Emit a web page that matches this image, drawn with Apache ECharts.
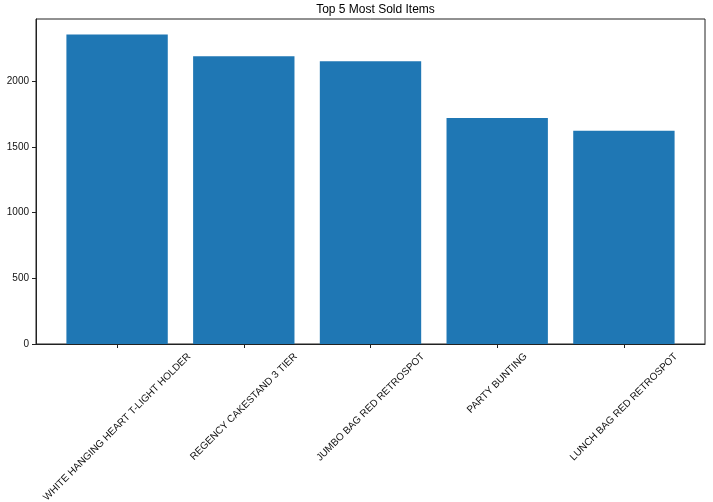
<!DOCTYPE html>
<html>
<head>
<meta charset="utf-8">
<script src="https://cdn.jsdelivr.net/npm/echarts@6/dist/echarts.min.js"></script>
<style>
    html, body { margin: 0; padding: 0; background: #fff; }
    #chart { width: 713px; height: 502px; }
</style>
</head>
<body>
<div id="chart"></div>
<script>
    // data
    var items = ['WHITE HANGING HEART T-LIGHT HOLDER', 'REGENCY CAKESTAND 3 TIER', 'JUMBO BAG RED RETROSPOT', 'PARTY BUNTING', 'LUNCH BAG RED RETROSPOT'];
    var sold = [2355, 2189, 2151, 1720, 1622];
    var yTicks = [0, 500, 1000, 1500, 2000];

    var font = '"Liberation Sans", Arial, sans-serif';
    var gridLeft = 36, gridRight = 8;
    var xMin = -0.64, xMax = items.length - 1 + 0.64;
    var barW = (713 - gridLeft - gridRight) / (xMax - xMin) * 0.8;

    // matplotlib centres rotated labels under the tick; emulate with padding
    var ctx = document.createElement('canvas').getContext('2d');
    ctx.font = '10px ' + font;
    var rich = {};
    items.forEach(function (t, i) {
        var w = ctx.measureText(t).width;
        var p = (w + 11) / 2;
        rich['l' + i] = {fontSize: 10, fontFamily: font, color: '#111', padding: [p, p, 0, 0]};
    });

    var chart = echarts.init(document.getElementById('chart'));
    var option = {
        animation: false,
        title: {
            text: 'Top 5 Most Sold Items',
            left: gridLeft + (713 - gridLeft - gridRight) / 2,
            textAlign: 'center',
            top: -1,
            textStyle: {fontSize: 12, fontWeight: 'normal', color: '#000', fontFamily: font}
        },
        grid: {
            left: gridLeft, right: gridRight, top: 19, bottom: 158,
            outerBoundsMode: 'none',
            show: true, borderColor: '#222', borderWidth: 1
        },
        xAxis: {
            type: 'value',
            min: xMin,
            max: xMax,
            splitLine: {show: false},
            axisLine: {show: true, onZero: false, lineStyle: {color: '#222', width: 1}},
            axisTick: {show: true, length: 4, customValues: [0, 1, 2, 3, 4], lineStyle: {color: '#222'}},
            axisLabel: {
                customValues: [0, 1, 2, 3, 4],
                rotate: 45,
                align: 'center',
                verticalAlign: 'middle',
                margin: 7,
                fontSize: 10,
                fontFamily: font,
                color: '#111',
                formatter: function (v) {
                    var i = Math.round(v);
                    return '{l' + i + '|' + items[i] + '}';
                },
                rich: rich
            }
        },
        yAxis: {
            type: 'value',
            min: 0,
            max: Math.max.apply(null, sold) * 1.05,
            splitLine: {show: false},
            axisLine: {show: true, onZero: false, lineStyle: {color: '#222', width: 1}},
            axisTick: {show: true, length: 4, customValues: yTicks, lineStyle: {color: '#222'}},
            axisLabel: {
                customValues: yTicks,
                margin: 7,
                fontSize: 10,
                fontFamily: font,
                color: '#111',
                formatter: function (v) { return String(v); }
            }
        },
        series: [{
            type: 'bar',
            barWidth: barW,
            itemStyle: {color: '#1f77b4'},
            data: sold.map(function (v, i) { return [i, v]; })
        }]
    };
    chart.setOption(option);

    window.addEventListener('resize', function () {
        chart.resize();
    });
</script>
</body>
</html>
